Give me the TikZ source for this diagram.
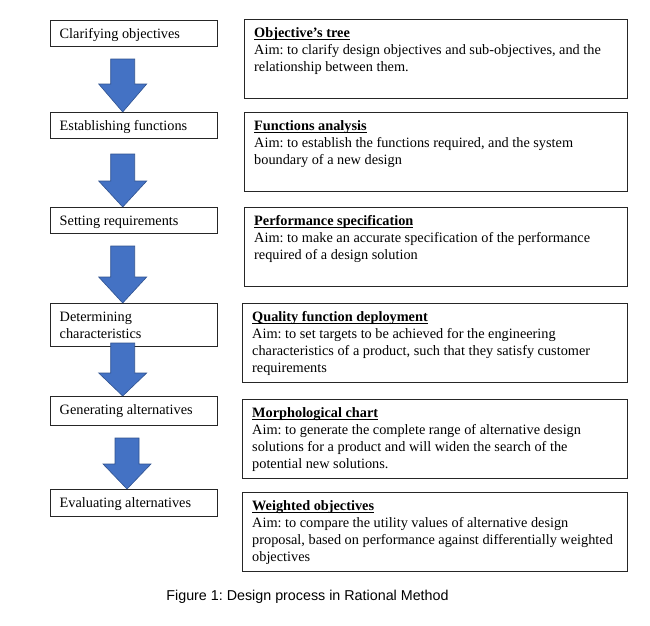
\documentclass[tikz,border=0pt]{standalone}
\usepackage{fontspec}
\setmainfont{Liberation Serif}
\newfontfamily\capfont{Liberation Sans}
\usetikzlibrary{calc}
\frenchspacing
\definecolor{arrowblue}{HTML}{4472C4}
\definecolor{arrowedge}{HTML}{2F528F}
\newcommand\blkarrow[4]{\draw[barrow] (#1-12,#2) -- (#1+12,#2) -- (#1+12,#3) -- (#1+24,#3) -- (#1,#4) -- (#1-24,#3) -- (#1-12,#3) -- cycle;}
\newcommand\ttl[1]{\setbox0\hbox{\textbf{#1}}\rlap{\rule[-1.9pt]{\wd0}{0.9pt}}\box0}
\begin{document}
\frenchspacing
\begin{tikzpicture}[x=1pt,y=-1pt,
  boxl/.style={draw=black!85, line width=0.8pt, anchor=north west, inner sep=0pt},
  lbox/.style={boxl, minimum width=167.5pt},
  rbox/.style={boxl, minimum height=79pt},
  txt/.style={anchor=north west, inner sep=0pt, align=left, font=\fontsize{14.3}{17}\selectfont\frenchspacing},
  barrow/.style={fill=arrowblue, draw=arrowedge, line width=0.6pt, line join=miter}]
\useasboundingbox (0,0) rectangle (650,625);
% left boxes
\node[lbox, minimum height=26pt] (s1) at (49.5,20) {};
\node[lbox, minimum height=26pt] (s2) at (49.5,112) {};
\node[lbox, minimum height=26pt] (s3) at (49.5,207) {};
\node[lbox, minimum height=43pt] (s4) at (49.5,303) {};
\node[lbox, minimum height=29pt] (s5) at (49.5,396) {};
\node[lbox, minimum height=27pt] (s6) at (49.5,489) {};
\node[txt] (s1t) at ($(s1.north west)+(10,8.5)$) {Clarifying objectives};
\node[txt] (s2t) at ($(s2.north west)+(10,8.5)$) {Establishing functions};
\node[txt] (s3t) at ($(s3.north west)+(10,8.5)$) {Setting requirements};
\node[txt] (s4t) at ($(s4.north west)+(10,8.5)$) {Determining\\characteristics};
\node[txt] (s5t) at ($(s5.north west)+(10,8.5)$) {Generating alternatives};
\node[txt] (s6t) at ($(s6.north west)+(10,8.5)$) {Evaluating alternatives};
% right boxes
\node[rbox, minimum width=383pt] (r1) at (244,19) {};
\node[rbox, minimum width=383pt] (r2) at (244,112) {};
\node[rbox, minimum width=383pt] (r3) at (244,207) {};
\node[rbox, minimum width=385pt] (r4) at (242,303) {};
\node[rbox, minimum width=385pt] (r5) at (242,399) {};
\node[rbox, minimum width=385pt] (r6) at (242,492) {};
\node[txt] (r1t) at ($(r1.north west)+(10,8.5)$) {\ttl{Objective’s tree}\\Aim: to clarify design objectives and sub-objectives, and the\\relationship between them.};
\node[txt] (r2t) at ($(r2.north west)+(10,8.5)$) {\ttl{Functions analysis}\\Aim: to establish the functions required, and the system\\boundary of a new design};
\node[txt] (r3t) at ($(r3.north west)+(10,8.5)$) {\ttl{Performance specification}\\Aim: to make an accurate specification of the performance\\required of a design solution};
\node[txt] (r4t) at ($(r4.north west)+(10,8.5)$) {\ttl{Quality function deployment}\\Aim: to set targets to be achieved for the engineering\\characteristics of a product, such that they satisfy customer\\requirements};
\node[txt] (r5t) at ($(r5.north west)+(10,8.5)$) {\ttl{Morphological chart}\\Aim: to generate the complete range of alternative design\\solutions for a product and will widen the search of the\\potential new solutions.};
\node[txt] (r6t) at ($(r6.north west)+(10,8.5)$) {\ttl{Weighted objectives}\\Aim: to compare the utility values of alternative design\\proposal, based on performance against differentially weighted\\objectives};
% block arrows
\blkarrow{122.7}{59}{84}{112}
\blkarrow{122.7}{154}{181}{207}
\blkarrow{122.7}{246}{277}{303}
\blkarrow{122.7}{343}{373}{396}
\blkarrow{127}{438}{464}{489}
% caption
\node[inner sep=0pt, font=\capfont\fontsize{14.3}{16}\selectfont\frenchspacing] (cap) at (307.5,597) {Figure 1: Design process in Rational Method};
\end{tikzpicture}
\end{document}
